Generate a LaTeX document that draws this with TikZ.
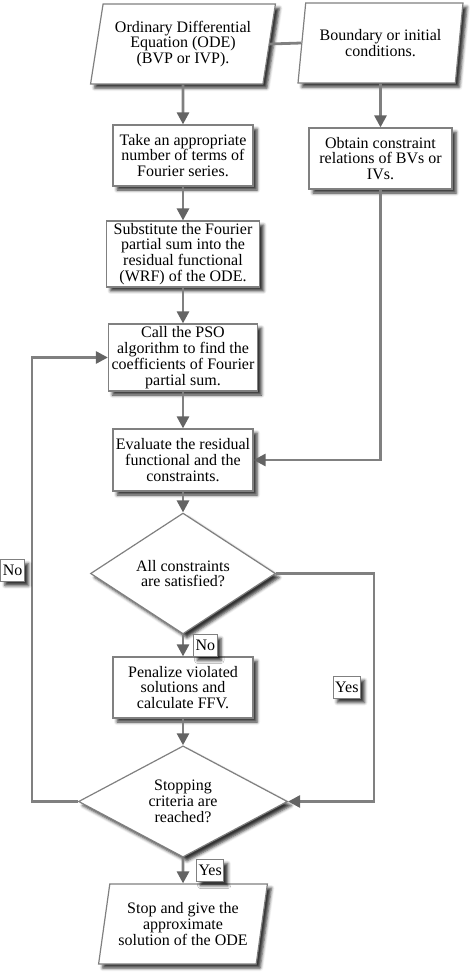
\documentclass[tikz,border=0pt]{standalone}
\usepackage{fontspec}
\setmainfont{Liberation Serif}
\usetikzlibrary{arrows.meta,shapes.geometric,shadows.blur}
\definecolor{linegray}{RGB}{128,128,128}
\definecolor{tipgray}{RGB}{100,100,100}

\begin{document}
\begin{tikzpicture}[x=1pt,y=-1pt,
  every node/.style={font=\fontsize{16}{15.8}\selectfont,align=center},
  shade/.style={blur shadow={shadow xshift=4pt,shadow yshift=-4pt,shadow blur radius=3pt,shadow opacity=80}},
  box/.style={rectangle,draw=linegray,line width=1.2pt,fill=white,inner sep=2pt,shade},
  io/.style={trapezium,trapezium left angle=77,trapezium right angle=103,trapezium stretches=true,
    draw=linegray,line width=1.2pt,fill=white,inner sep=0pt,minimum height=80pt,shade},
  test/.style={diamond,draw=linegray,line width=1.2pt,fill=white,inner sep=0pt,shade},
  lbl/.style={rectangle,draw=linegray,line width=1pt,fill=white,inner sep=2pt,minimum height=22pt,shade},
  flow/.style={draw=linegray,line width=2.8pt,-{Triangle[length=12pt,width=12pt,fill=tipgray,color=tipgray]}}]
  \useasboundingbox (0,0) rectangle (474,974);

  \node[io,minimum width=185pt] (ode) at (183,44) {Ordinary Differential\\Equation (ODE)\\(BVP or IVP).};
  \node[io,minimum width=165pt] (bnd) at (380.5,43) {Boundary or initial\\conditions.};
  \node[box,minimum width=140pt,minimum height=61pt] (take) at (183,155.5) {Take an appropriate\\number of terms of\\Fourier series.};
  \node[box,minimum width=143pt,minimum height=61pt] (obt) at (380.5,158.5) {Obtain constraint\\relations of BVs or\\IVs.};
  \node[box,minimum width=153pt,minimum height=64pt] (sub) at (183,254) {Substitute the Fourier\\partial sum into the\\residual functional\\(WRF) of the ODE.};
  \node[box,minimum width=149pt,minimum height=67pt] (call) at (183,357.5) {Call the PSO\\algorithm to find the\\coefficients of Fourier\\partial sum.};
  \node[box,minimum width=140pt,minimum height=62pt] (eval) at (183,460) {Evaluate the residual\\functional and the\\constraints.};
  \node[test,minimum width=185pt,minimum height=79pt] (sat) at (183,573.5) {All constraints\\are satisfied?};
  \node[box,minimum width=140pt,minimum height=61pt] (pen) at (183,687.5) {Penalize violated\\solutions and\\calculate FFV.};
  \node[test,minimum width=209pt,minimum height=92pt] (stop) at (183,801.5) {Stopping\\criteria are\\reached?};
  \node[io,minimum width=169pt] (sol) at (183,924) {Stop and give the\\approximate\\solution of the ODE};

  \coordinate (cl) at (32,801.5);
  \coordinate (cr) at (374,573.5);

  \draw[draw=linegray,line width=2.8pt] (ode.east) -- (bnd.west);
  \path[flow]
    (ode)  edge (take)
    (take) edge (sub)
    (sub)  edge (call)
    (call) edge (eval)
    (eval) edge (sat)
    (sat)  edge node[lbl,right=10pt] {No} (pen)
    (pen)  edge (stop)
    (stop) edge node[lbl,right=13pt] {Yes} (sol)
    (bnd)  edge (obt);
  \draw[flow] (obt.south) |- (eval.east);
  \draw[flow] (sat.east) -- (cr) |- node[lbl,pos=.25,left=13pt] {Yes} (stop.east);
  \draw[flow] (stop.west) -- (cl) |- node[lbl,pos=.26,left=7pt] {No} (call.west);
\end{tikzpicture}
\end{document}
